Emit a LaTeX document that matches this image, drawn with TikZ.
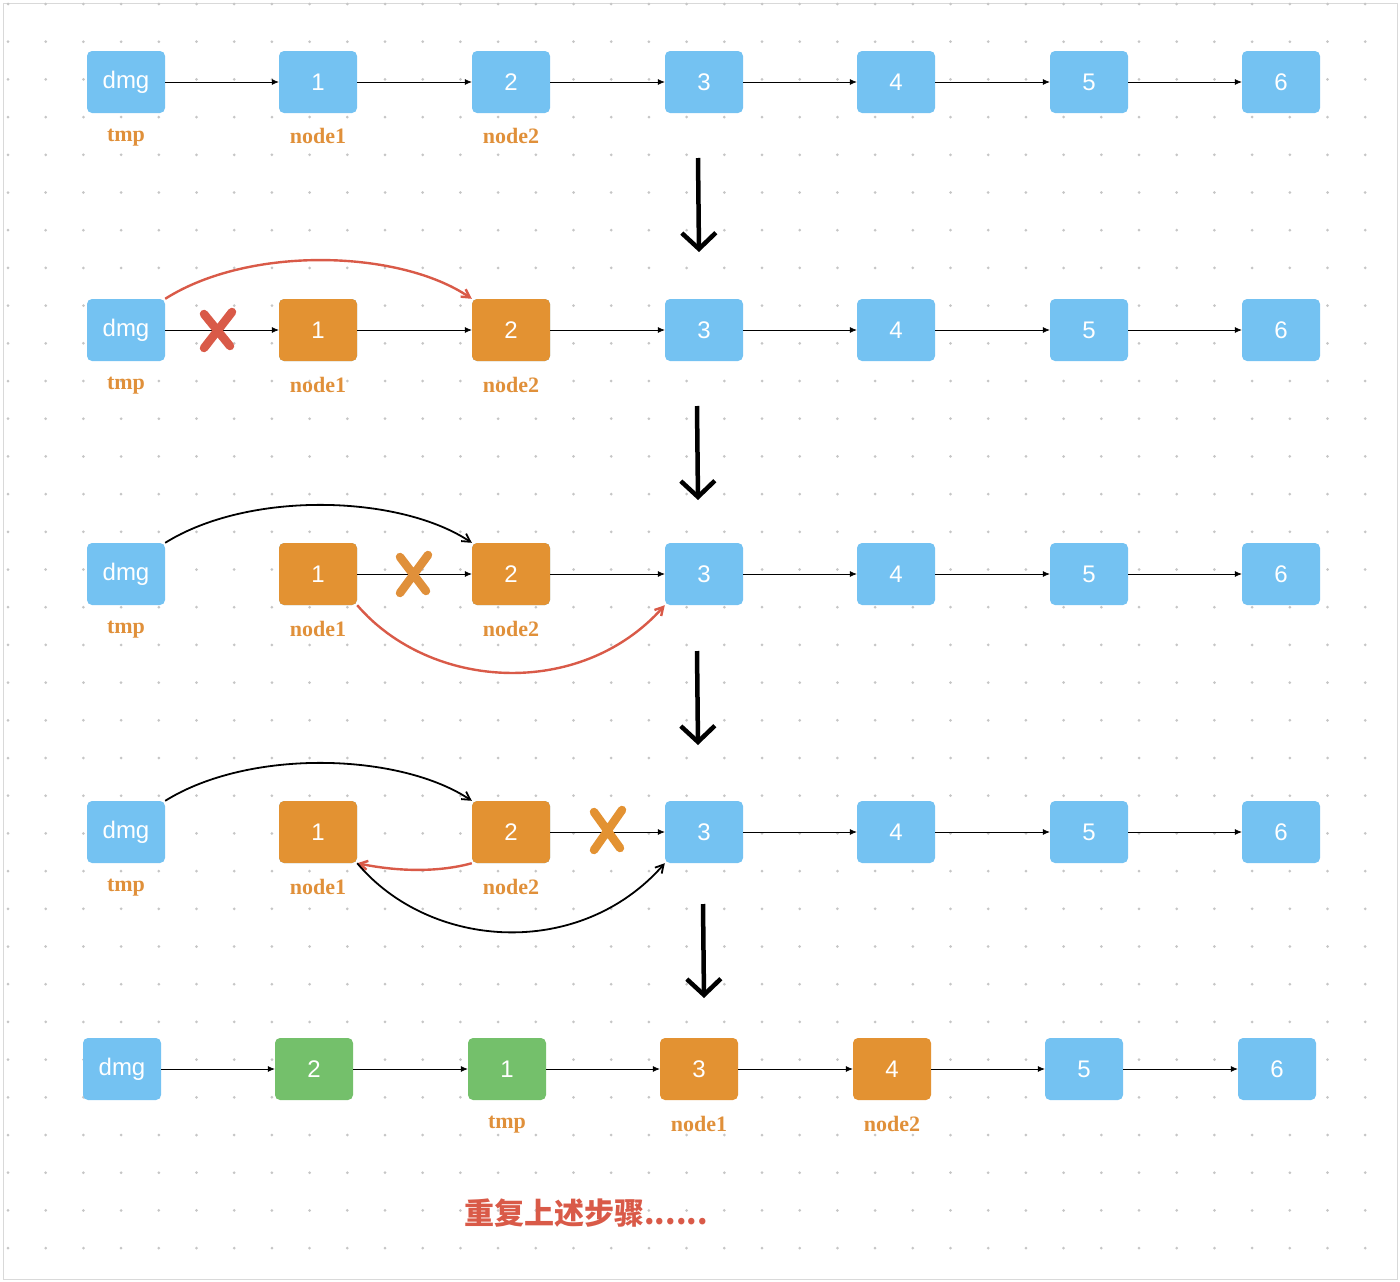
\documentclass[tikz,border=0pt]{standalone}
\usepackage{fontspec}
\setmainfont{Liberation Serif}
\newfontfamily\sansf{Liberation Sans}
\newfontfamily\cjk{Noto Sans CJK SC}
\usetikzlibrary{arrows.meta,positioning,calc}
\definecolor{bluebox}{HTML}{74C2F2}
\definecolor{orangebox}{HTML}{E39232}
\definecolor{greenbox}{HTML}{74C06B}
\definecolor{labelorange}{HTML}{E0903A}
\definecolor{redline}{HTML}{D95A48}
\tikzset{
    box/.style={rectangle, rounded corners=5pt, minimum width=78pt, minimum height=62pt, text=white, font=\sansf\fontsize{24}{24}\selectfont, inner sep=0pt},
    bluebx/.style={box, fill=bluebox},
    orangebx/.style={box, fill=orangebox},
    greenbx/.style={box, fill=greenbox},
    lbl/.style={text=labelorange, font=\bfseries\fontsize{22}{22}\selectfont},
    link/.style={draw, -{Latex[length=7pt,width=6pt]}, line width=0.7pt},
    curve/.style={draw, -{Straight Barb[length=8pt,width=9pt]}, line width=2.4pt},
    downstep/.style={draw, -{Straight Barb[length=16pt,width=34pt]}, line width=4.5pt},
    cross/.style={line width=8.5pt, line cap=round}
}
\begin{document}
\begin{tikzpicture}[x=1pt, y=-1pt]
    \useasboundingbox (0,0) rectangle (1400,1282);
    \draw[gray!30, line width=1pt] (3,3) rectangle (1397,1279);
    % dotted grid
    \foreach \i in {0,...,36} {
        \foreach \j in {0,...,33} {
            \fill[gray!45] (8+37.7*\i, 4+37.7*\j) circle (1.5pt);
        }
    }
    % rows 1-4
    \foreach \r/\y in {1/82, 2/330, 3/574, 4/832} {
        \node[bluebx] (r\r d) at (126,\y) {dmg};
        \foreach \k/\x in {1/318, 2/511, 3/704, 4/896, 5/1089, 6/1281} {
            \node[bluebx] (r\r n\k) at (\x,\y) {\k};
        }
    }
    \foreach \r in {2,3,4} {
        \node[orangebx] at (r\r n1) {1};
        \node[orangebx] at (r\r n2) {2};
    }
    \foreach \r in {1,2,3,4} {
        \node[lbl, below=12pt of r\r d] {tmp};
        \node[lbl, below=12pt of r\r n1] {node1};
        \node[lbl, below=12pt of r\r n2] {node2};
    }
    \path[link] (r1d) -- (r1n1);
    \path[link] (r2d) -- (r2n1);
    \path[link] (r1n1) -- (r1n2);
    \path[link] (r2n1) -- (r2n2);
    \path[link] (r3n1) -- (r3n2);
    \path[link] (r4n2) -- (r4n3);
    \foreach \r in {1,2,3} {\path[link] (r\r n2) -- (r\r n3);}
    \foreach \r in {1,2,3,4} {
        \path[link] (r\r n3) -- (r\r n4);
        \path[link] (r\r n4) -- (r\r n5);
        \path[link] (r\r n5) -- (r\r n6);
    }
    % row 2 changes
    \path[curve, redline] (r2d.north east) .. controls (250,245) and (400,250) .. (r2n2.north west);
    \draw[cross, redline] (204,314) -- (230,346) (232,312) -- (204,348);
    % row 3 changes
    \path[curve, black, line width=1.8pt] (r3d.north east) .. controls (250,490) and (400,495) .. (r3n2.north west);
    \draw[cross, labelorange] (400,557) -- (426,591) (428,555) -- (400,593);
    \path[curve, redline] (r3n1.south east) .. controls (430,690) and (580,700) .. (r3n3.south west);
    % row 4 changes
    \path[curve, black, line width=1.8pt] (r4d.north east) .. controls (250,748) and (400,753) .. (r4n2.north west);
    \draw[cross, orangebox] (594,812) -- (620,848) (622,810) -- (594,850);
    \path[curve, redline] (r4n2.south west) .. controls (440,872) and (400,872) .. (r4n1.south east);
    \path[curve, black, line width=1.8pt] (r4n1.south east) .. controls (430,950) and (580,960) .. (r4n3.south west);
    % row 5
    \node[bluebx] (r5d) at (122,1069) {dmg};
    \node[greenbx] (r5n2) at (314,1069) {2};
    \node[greenbx] (r5n1) at (507,1069) {1};
    \node[orangebx] (r5n3) at (699,1069) {3};
    \node[orangebx] (r5n4) at (892,1069) {4};
    \node[bluebx] (r5n5) at (1084,1069) {5};
    \node[bluebx] (r5n6) at (1277,1069) {6};
    \path[link] (r5d) -- (r5n2);
    \path[link] (r5n2) -- (r5n1);
    \path[link] (r5n1) -- (r5n3);
    \path[link] (r5n3) -- (r5n4);
    \path[link] (r5n4) -- (r5n5);
    \path[link] (r5n5) -- (r5n6);
    \node[lbl, below=12pt of r5n1] {tmp};
    \node[lbl, below=12pt of r5n3] {node1};
    \node[lbl, below=12pt of r5n4] {node2};
    % step arrows
    \coordinate (s1a) at (698,158); \coordinate (s1b) at (699,252);
    \coordinate (s2a) at (697,406); \coordinate (s2b) at (698,500);
    \coordinate (s3a) at (697,651); \coordinate (s3b) at (698,745);
    \coordinate (s4a) at (703,904); \coordinate (s4b) at (704,998);
    \foreach \s in {1,2,3,4} {\path[downstep] (s\s a) -- (s\s b);}
    \node[text=redline, font=\cjk\bfseries\fontsize{30}{30}\selectfont] (note) at (586,1213) {重复上述步骤......};
\end{tikzpicture}
\end{document}
